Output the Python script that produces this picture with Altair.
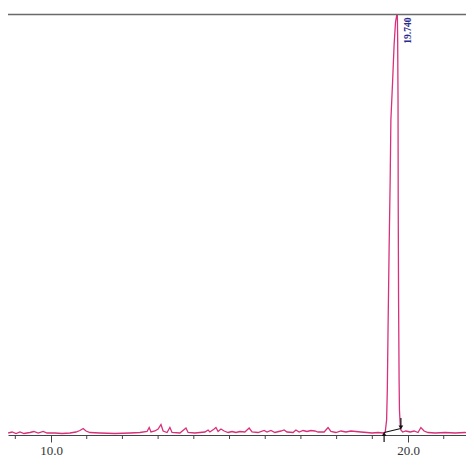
import altair as alt
import pandas as pd

# retention time (min) and detector signal
times = [
    8.80, 8.91, 9.02, 9.13, 9.24, 9.41, 9.52, 9.64, 9.78, 9.89,
    10.11, 10.31, 10.53, 10.70, 10.81, 10.90, 10.98, 11.09, 11.37, 11.79,
    12.21, 12.49, 12.69, 12.75, 12.80, 12.91, 13.00, 13.08, 13.14, 13.25,
    13.33, 13.39, 13.61, 13.78, 13.84, 14.03, 14.31, 14.40, 14.45, 14.57,
    14.62, 14.68, 14.76, 14.85, 14.96, 15.07, 15.18, 15.29, 15.43, 15.55,
    15.63, 15.80, 15.97, 16.05, 16.16, 16.27, 16.44, 16.53, 16.61, 16.78,
    16.86, 16.95, 17.06, 17.17, 17.28, 17.39, 17.48, 17.65, 17.76, 17.84,
    17.98, 18.12, 18.26, 18.40, 18.54, 18.68, 18.85, 18.99, 19.16, 19.30,
    19.36, 19.40, 19.42, 19.44, 19.47, 19.50, 19.52, 19.57, 19.61, 19.65,
    19.70, 19.71, 19.72, 19.725, 19.735, 19.75, 19.76, 19.78, 19.80, 19.85,
    19.94, 20.06, 20.17, 20.28, 20.36, 20.45, 20.56, 20.76, 21.04, 21.32,
    21.60, 21.85,
]
signal = [
    2.0, 3.0, 1.5, 3.0, 1.5, 2.5, 3.5, 2.0, 3.5, 2.0,
    2.0, 1.5, 2.0, 3.0, 4.5, 6.5, 4.0, 2.5, 2.0, 1.5,
    2.0, 2.5, 3.5, 7.5, 3.0, 4.0, 6.0, 10.5, 4.0, 2.5,
    7.5, 2.5, 2.0, 7.0, 2.5, 2.0, 3.0, 5.0, 3.0, 6.0,
    7.5, 3.5, 6.0, 4.0, 2.5, 3.5, 2.5, 3.5, 3.0, 7.0,
    3.0, 2.5, 4.5, 3.0, 4.5, 2.5, 4.0, 5.0, 3.0, 2.5,
    5.0, 3.0, 4.5, 3.5, 4.5, 4.0, 3.0, 3.0, 7.5, 3.5,
    2.5, 4.0, 3.0, 4.0, 3.5, 3.0, 2.5, 2.0, 2.5, 2.0,
    2.5, 15.0, 45.0, 105.0, 185.0, 255.0, 315.0, 355.0, 390.0, 413.0,
    423.0, 395.0, 335.0, 235.0, 135.0, 55.0, 25.0, 11.0, 5.0, 3.0,
    4.0, 3.0, 4.0, 2.5, 7.5, 4.0, 2.5, 2.0, 2.5, 2.0,
    2.5, 2.0,
]

tick_minor = [9, 11, 12, 13, 14, 15, 16, 17, 18, 19, 21]
peak_label = ["19.740"]
peak_rt = [19.74]

trace = pd.DataFrame({"t": times, "v": signal, "i": list(range(len(times)))})

x_scale = alt.Scale(domain=[8.795, 21.624], nice=False, zero=False)
y_scale = alt.Scale(domain=[0, 420.5], nice=False, zero=False)

line = alt.Chart(trace).mark_line(
    color="#D8307A", strokeWidth=1.3, clip=True
).encode(
    x=alt.X("t:Q", scale=x_scale, title=None,
            axis=alt.Axis(values=[10, 20], format=".1f", tickSize=7,
                          domainColor="#444", tickColor="#444",
                          labelFont="Liberation Serif", labelFontSize=13,
                          labelColor="#333", labelPadding=2, grid=False)),
    y=alt.Y("v:Q", scale=y_scale, axis=None),
    order="i:O",
)

minor = alt.Chart(pd.DataFrame({"t": tick_minor})).mark_rule(
    color="#444", strokeWidth=1
).encode(
    x=alt.X("t:Q", scale=x_scale),
    y=alt.value(420.5),
    y2=alt.value(424.5),
)

# integration baseline and start/end markers
base_seg = pd.DataFrame({"t": [19.33], "v": [2.5], "t2": [19.80], "v2": [6.5]})
baseline = alt.Chart(base_seg).mark_rule(color="#111", strokeWidth=1.2).encode(
    x=alt.X("t:Q", scale=x_scale), y=alt.Y("v:Q", scale=y_scale),
    x2="t2:Q", y2="v2:Q",
)
arrows = pd.DataFrame({
    "t": [19.80, 19.33], "v": [17.0, -7.0], "v2": [7.5, 1.0],
    "shape": ["triangle-down", "triangle-up"],
})
arrow_stem = alt.Chart(arrows).mark_rule(color="#111", strokeWidth=1.2).encode(
    x=alt.X("t:Q", scale=x_scale), y=alt.Y("v:Q", scale=y_scale), y2="v2:Q",
)
arrow_head = alt.Chart(arrows).mark_point(
    filled=True, color="#111", size=22, opacity=1
).encode(
    x=alt.X("t:Q", scale=x_scale), y=alt.Y("v2:Q", scale=y_scale),
    shape=alt.Shape("shape:N", scale=None),
)

label = alt.Chart(pd.DataFrame({"t": peak_rt, "txt": peak_label})).mark_text(
    angle=270, align="right", baseline="middle", dx=-3, dy=9,
    font="Liberation Serif", fontSize=9.5, fontWeight="bold", color="#2B2B8C",
).encode(
    x=alt.X("t:Q", scale=x_scale), y=alt.value(0), text="txt:N",
)

top_line = alt.Chart(pd.DataFrame({"a": [0]})).mark_rule(
    color="#6a6a6a", strokeWidth=1.4
).encode(x=alt.value(0), x2=alt.value(458), y=alt.value(0))

chart = alt.layer(line, minor, baseline, arrow_stem, arrow_head, label, top_line).properties(
    width=458, height=420.5,
    autosize=alt.AutoSizeParams(type="none"),
    padding={"left": 0, "top": 6.5, "right": 0, "bottom": 24},
).configure_view(stroke=None)

chart.save("out.html", embed_options={"renderer": "svg", "actions": False})
